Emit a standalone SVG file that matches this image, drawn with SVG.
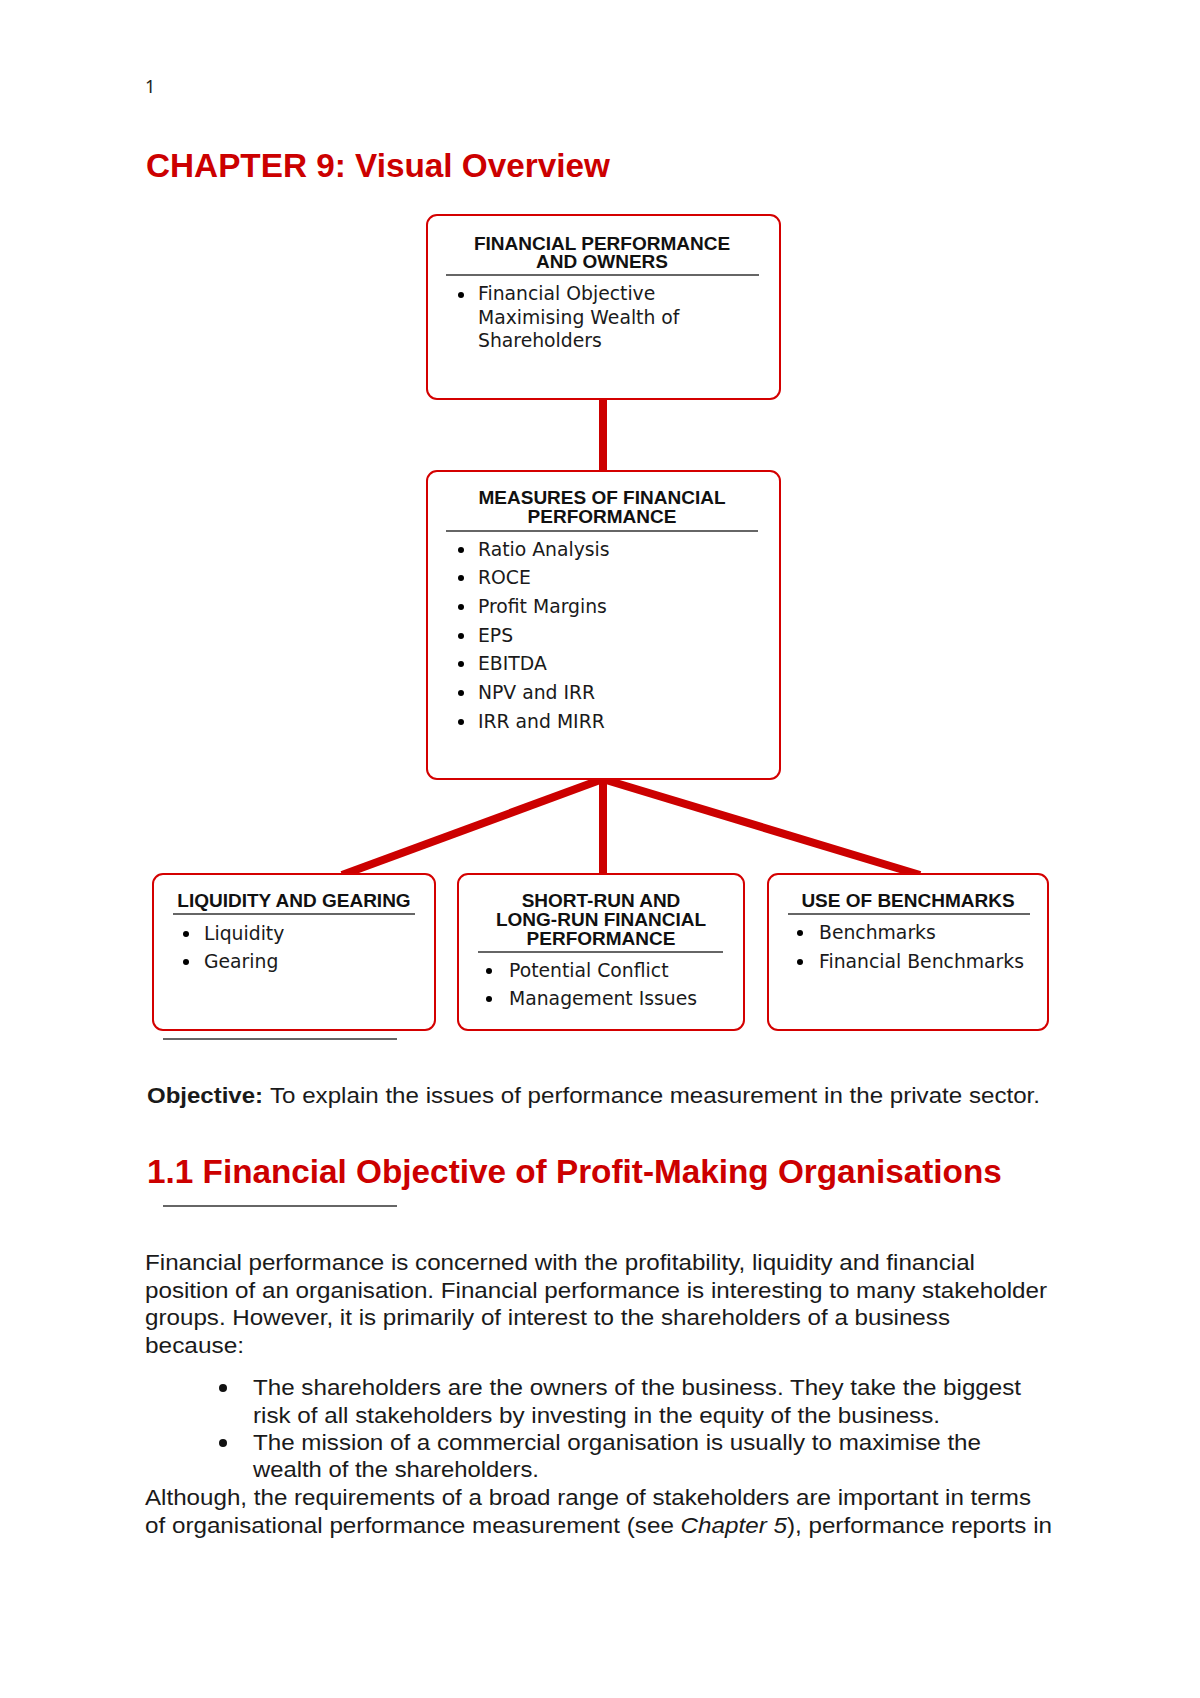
<svg xmlns="http://www.w3.org/2000/svg" width="1200" height="1698" viewBox="0 0 1200 1698">
<style>
.box{fill:#fff;stroke:#d40000;stroke-width:2}
.hd{font-family:"Liberation Sans",Arial,sans-serif;font-weight:bold;font-size:19px;fill:#111;text-anchor:middle}
.it{font-family:"DejaVu Sans",Verdana,sans-serif;font-size:18.8px;fill:#1a1a1a}
.rule{stroke:#333;stroke-width:1.6}
.conn{stroke:#cc0000;stroke-width:8;fill:none}
.h1{font-family:"Liberation Sans",Arial,sans-serif;font-weight:bold;font-size:33.3px;fill:#cc0000}
.body{font-family:"Liberation Sans",Arial,sans-serif;font-size:22px;fill:#1a1a1a}
</style>
<rect width="1200" height="1698" fill="#fff"/>
<text x="145" y="93" font-family="Noto Sans, sans-serif" font-size="18" fill="#222">1</text>
<text class="h1" x="146" y="177">CHAPTER 9: Visual Overview</text>

<g id="connectors">
<line class="conn" x1="603" y1="398" x2="603" y2="472"/>
<line class="conn" x1="603" y1="778" x2="603" y2="875"/>
<line class="conn" x1="600" y1="780" x2="342" y2="875"/>
<line class="conn" x1="606" y1="780" x2="920" y2="875"/>
</g>

<g id="node-owners">
<rect class="box" x="427" y="215" width="353" height="184" rx="10"/>
<text class="hd" x="602" y="250">FINANCIAL PERFORMANCE</text>
<text class="hd" x="602" y="268">AND OWNERS</text>
<line class="rule" x1="446" y1="275" x2="759" y2="275"/>
<circle cx="461" cy="295" r="3"/>
<text class="it" x="478" y="300">Financial Objective</text>
<text class="it" x="478" y="324">Maximising Wealth of</text>
<text class="it" x="478" y="347">Shareholders</text>
</g>

<g id="node-measures">
<rect class="box" x="427" y="471" width="353" height="308" rx="10"/>
<text class="hd" x="602" y="504">MEASURES OF FINANCIAL</text>
<text class="hd" x="602" y="523">PERFORMANCE</text>
<line class="rule" x1="446" y1="531" x2="758" y2="531"/>
<g>
<circle cx="461" cy="550" r="3"/><text class="it" x="478" y="556">Ratio Analysis</text>
<circle cx="461" cy="578" r="3"/><text class="it" x="478" y="584">ROCE</text>
<circle cx="461" cy="607" r="3"/><text class="it" x="478" y="613">Profit Margins</text>
<circle cx="461" cy="636" r="3"/><text class="it" x="478" y="642">EPS</text>
<circle cx="461" cy="664" r="3"/><text class="it" x="478" y="670">EBITDA</text>
<circle cx="461" cy="693" r="3"/><text class="it" x="478" y="699">NPV and IRR</text>
<circle cx="461" cy="722" r="3"/><text class="it" x="478" y="728">IRR and MIRR</text>
</g>
</g>

<g id="node-liquidity">
<rect class="box" x="153" y="874" width="282" height="156" rx="10"/>
<text class="hd" x="294" y="907">LIQUIDITY AND GEARING</text>
<line class="rule" x1="173" y1="914" x2="415" y2="914"/>
<circle cx="186" cy="934" r="3"/><text class="it" x="204" y="940">Liquidity</text>
<circle cx="186" cy="962" r="3"/><text class="it" x="204" y="968">Gearing</text>
</g>

<g id="node-shortlong">
<rect class="box" x="458" y="874" width="286" height="156" rx="10"/>
<text class="hd" x="601" y="907">SHORT-RUN AND</text>
<text class="hd" x="601" y="926">LONG-RUN FINANCIAL</text>
<text class="hd" x="601" y="945">PERFORMANCE</text>
<line class="rule" x1="478" y1="952" x2="723" y2="952"/>
<circle cx="489" cy="971" r="3"/><text class="it" x="509" y="977">Potential Conflict</text>
<circle cx="489" cy="999" r="3"/><text class="it" x="509" y="1005">Management Issues</text>
</g>

<g id="node-benchmarks">
<rect class="box" x="768" y="874" width="280" height="156" rx="10"/>
<text class="hd" x="908" y="907">USE OF BENCHMARKS</text>
<line class="rule" x1="788" y1="914" x2="1030" y2="914"/>
<circle cx="800" cy="933" r="3"/><text class="it" x="819" y="939">Benchmarks</text>
<circle cx="800" cy="962" r="3"/><text class="it" x="819" y="968">Financial Benchmarks</text>
</g>

<line class="rule" x1="163" y1="1039" x2="397" y2="1039"/>

<text class="body" x="147" y="1103" font-weight="bold" textLength="116" lengthAdjust="spacingAndGlyphs">Objective:</text>
<text class="body" x="270" y="1103" textLength="770" lengthAdjust="spacingAndGlyphs">To explain the issues of performance measurement in the private sector.</text>

<text class="h1" x="147" y="1183">1.1 Financial Objective of Profit-Making Organisations</text>
<line class="rule" x1="163" y1="1206" x2="397" y2="1206"/>

<text class="body" x="145" y="1270" textLength="830" lengthAdjust="spacingAndGlyphs">Financial performance is concerned with the profitability, liquidity and financial</text>
<text class="body" x="145" y="1298" textLength="902" lengthAdjust="spacingAndGlyphs">position of an organisation. Financial performance is interesting to many stakeholder</text>
<text class="body" x="145" y="1325" textLength="805" lengthAdjust="spacingAndGlyphs">groups. However, it is primarily of interest to the shareholders of a business</text>
<text class="body" x="145" y="1353" textLength="99" lengthAdjust="spacingAndGlyphs">because:</text>

<circle cx="223" cy="1388" r="4" fill="#111"/>
<text class="body" x="253" y="1395" textLength="768" lengthAdjust="spacingAndGlyphs">The shareholders are the owners of the business. They take the biggest</text>
<text class="body" x="253" y="1423" textLength="687" lengthAdjust="spacingAndGlyphs">risk of all stakeholders by investing in the equity of the business.</text>
<circle cx="223" cy="1443" r="4" fill="#111"/>
<text class="body" x="253" y="1450" textLength="728" lengthAdjust="spacingAndGlyphs">The mission of a commercial organisation is usually to maximise the</text>
<text class="body" x="253" y="1477" textLength="286" lengthAdjust="spacingAndGlyphs">wealth of the shareholders.</text>
<text class="body" x="145" y="1505" textLength="886" lengthAdjust="spacingAndGlyphs">Although, the requirements of a broad range of stakeholders are important in terms</text>
<text class="body" x="145" y="1533" textLength="907" lengthAdjust="spacingAndGlyphs">of organisational performance measurement (see <tspan font-style="italic">Chapter 5</tspan>), performance reports in</text>
</svg>
